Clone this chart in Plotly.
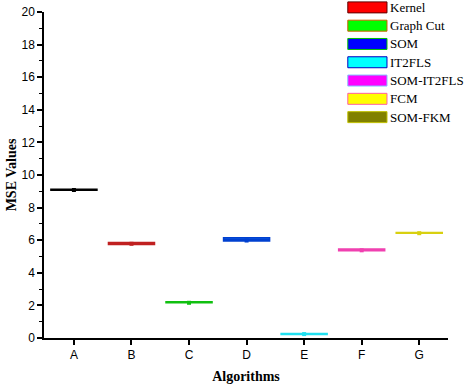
import plotly.graph_objects as go

categories = ["A", "B", "C", "D", "E", "F", "G"]
medians = [9.10, 5.80, 2.20, 6.05, 0.25, 5.40, 6.45]
means = [9.08, 5.78, 2.16, 5.98, 0.24, 5.38, 6.43]
q1 = [9.07, 5.74, 2.16, 5.95, 0.22, 5.35, 6.42]
q3 = [9.13, 5.86, 2.23, 6.15, 0.28, 5.46, 6.48]
box_colors = ["#000000", "#e0302a", "#18d018", "#1a70f0", "#30e8f0", "#f040c0", "#e8e020"]
box_lines = ["#000000", "#c02020", "#10c010", "#0040d0", "#20e0f0", "#f040b0", "#d8d010"]

legend_names = ["Kernel", "Graph Cut", "SOM", "IT2FLS", "SOM-IT2FLS", "FCM", "SOM-FKM"]
legend_fill = ["#ff0000", "#00ff00", "#0000ff", "#00ffff", "#ff00ff", "#ffff00", "#808000"]
legend_edge = ["#600000", "#d06000", "#00c000", "#0000c0", "#80c0ff", "#ff60a0", "#c0c000"]

y_ticks = [0, 2, 4, 6, 8, 10, 12, 14, 16, 18, 20]

fig = go.Figure()
for i, c in enumerate(categories):
    fig.add_trace(go.Box(
        x=[c], q1=[q1[i]], median=[medians[i]], q3=[q3[i]],
        lowerfence=[q1[i]], upperfence=[q3[i]],
        width=0.8, fillcolor=box_colors[i],
        line=dict(color=box_lines[i], width=1.5),
        showlegend=False, boxpoints=False, hoverinfo="skip",
    ))
# mean markers
fig.add_trace(go.Scatter(
    x=categories, y=means, mode="markers", showlegend=False, hoverinfo="skip",
    marker=dict(symbol="square", size=4, color=box_lines, line=dict(width=0)),
))

# custom legend (boxes + labels) in paper coordinates
n = len(legend_names)
for k in range(n):
    y_top = 1.031 - k * 0.0561
    fig.add_shape(type="rect", xref="paper", yref="paper",
                  x0=0.752, x1=0.849, y0=y_top - 0.0337, y1=y_top,
                  fillcolor=legend_fill[k], line=dict(color=legend_edge[k], width=1))
    fig.add_annotation(xref="paper", yref="paper", x=0.857, y=y_top - 0.0168,
                       text=legend_names[k], showarrow=False, xanchor="left",
                       yanchor="middle", xshift=-2,
                       font=dict(family="Liberation Serif", size=13, color="black"))

fig.update_layout(
    width=474, height=385,
    margin=dict(l=44, r=26, t=12, b=47, autoexpand=False),
    paper_bgcolor="white", plot_bgcolor="white",
    boxmode="overlay",
    font=dict(family="Liberation Sans", size=12, color="black"),
    xaxis=dict(
        type="category", categoryorder="array", categoryarray=categories,
        range=[-0.52, 6.5], showline=True, linecolor="black", linewidth=1.5,
        ticks="outside", ticklen=5, tickwidth=1.5, tickcolor="black",
        showgrid=False, zeroline=False, automargin=False,
        title=dict(text="<b>Algorithms</b>", font=dict(family="Liberation Serif", size=14), standoff=10),
    ),
    yaxis=dict(
        range=[0, 20], tickvals=y_ticks, showline=True, linecolor="black", linewidth=1.5,
        ticks="outside", ticklen=5, tickwidth=1.5, tickcolor="black",
        minor=dict(dtick=1, ticks="outside", ticklen=3, tickcolor="black", tickwidth=1),
        showgrid=False, zeroline=False, automargin=False,
        title=dict(text="<b>MSE Values</b>", font=dict(family="Liberation Serif", size=14), standoff=2),
    ),
)

fig.write_html("out.html", config={"displayModeBar": False},
               post_script="document.body.style.margin='0';")
